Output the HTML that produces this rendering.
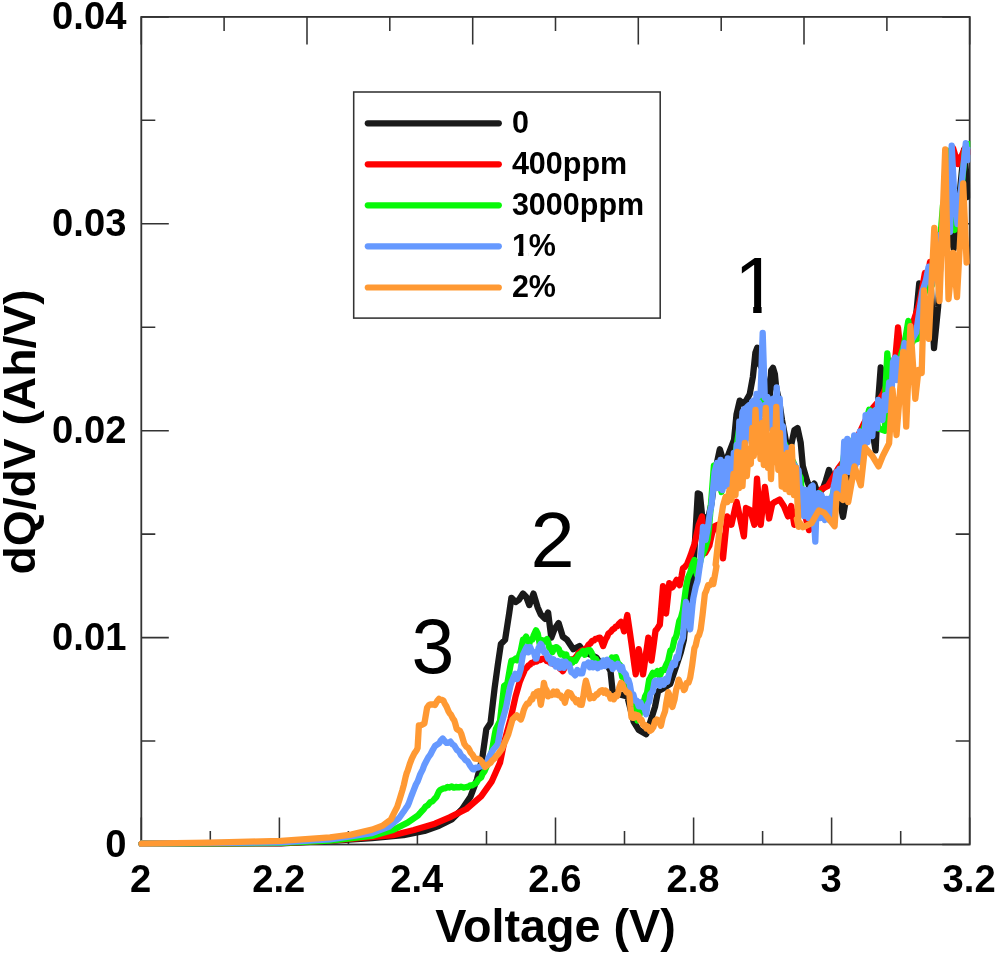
<!DOCTYPE html>
<html lang="en"><head><meta charset="utf-8"><title>dQ/dV vs Voltage</title>
<style>
html,body{margin:0;padding:0;background:#fff}
body{width:995px;height:953px;overflow:hidden}
svg text{font-family:"Liberation Sans",Arial,Helvetica,sans-serif;fill:#000}
.tk{font-size:39.7px;font-weight:bold}
.lg{font-size:32.2px;font-weight:bold}
.ti{font-size:46px;font-weight:bold}
.ty{font-size:45px;font-weight:bold}
.an{font-size:77px;font-weight:normal}
</style></head><body>
<svg width="995" height="953" viewBox="0 0 995 953" style="display:block;filter:blur(0.5px)">
<rect width="995" height="953" fill="#fff"/>
<rect x="141.3" y="16.9" width="828.4" height="827.6" fill="none" stroke="#333" stroke-width="1.8"/>
<path d="M141.3,844.5 v-27 M210.3,844.5 v-13.5 M279.4,844.5 v-27 M348.4,844.5 v-13.5 M417.4,844.5 v-13 M486.5,844.5 v-13.5 M555.5,844.5 v-27 M624.5,844.5 v-13.5 M693.6,844.5 v-27 M762.6,844.5 v-13.5 M831.6,844.5 v-27 M900.7,844.5 v-13.5 M969.7,844.5 v-27 M141.3,16.9 v27.5 M224.1,16.9 v14 M307.0,16.9 v27.5 M389.8,16.9 v14 M472.7,16.9 v27.5 M555.5,16.9 v14 M638.3,16.9 v27.5 M721.2,16.9 v14 M804.0,16.9 v27.5 M886.9,16.9 v14 M969.7,16.9 v27.5 M141.3,16.9 h27.5 M969.7,16.9 h-27.5 M141.3,120.3 h14 M969.7,120.3 h-14 M141.3,223.8 h27.5 M969.7,223.8 h-27.5 M141.3,327.2 h14 M969.7,327.2 h-14 M141.3,430.7 h27.5 M969.7,430.7 h-27.5 M141.3,534.1 h14 M969.7,534.1 h-14 M141.3,637.6 h27.5 M969.7,637.6 h-27.5 M141.3,741.0 h14 M969.7,741.0 h-14 M141.3,844.5 h27.5 M969.7,844.5 h-27.5" fill="none" stroke="#333" stroke-width="1.55"/>
<clipPath id="pa"><rect x="137.3" y="16.9" width="833.0" height="830.6"/></clipPath>
<g clip-path="url(#pa)">
<path d="M141.6,843.7 L281.0,843.4 L330.0,840.9 L372.0,838.0 L403.5,835.2 L424.4,831.0 L439.1,825.8 L451.7,819.5 L462.2,809.0 L470.6,796.4 L476.9,779.6 L482.2,758.6 L486.3,729.3 L490.5,723.0 L494.7,687.3 L497.8,664.9 L500.9,643.9 L505.1,639.7 L509.3,612.5 L511.4,597.8 L515.6,602.0 L518.8,599.9 L523.0,593.6 L526.1,596.7 L529.3,605.1 L533.5,593.6 L537.6,607.2 L540.8,614.6 L545.0,618.8 L548.1,612.5 L551.3,637.6 L554.4,629.3 L558.6,623.0 L562.8,636.6 L567.0,639.7 L573.3,649.2 L579.6,646.0 L583.8,652.3 L590.1,654.4 L596.4,657.6 L600.0,662.8 L606.3,662.8 L610.5,671.2 L612.6,691.2 L618.9,694.3 L627.3,696.4 L633.6,721.6 L638.8,730.0 L646.2,734.2 L650.4,721.6 L655.0,706.9 L658.1,691.2 L664.0,688.0 L670.3,683.8 L676.6,664.9 L680.8,652.3 L683.9,639.7 L687.1,606.2 L690.2,587.3 L694.4,568.4 L693.6,564.7 L697.8,493.3 L699.9,494.4 L702.0,514.3 L707.2,522.7 L711.4,503.8 L716.7,463.9 L719.8,449.3 L723.0,459.7 L727.2,457.6 L734.0,440.0 L736.5,414.5 L739.7,400.6 L744.0,404.4 L749.7,394.3 L752.9,376.7 L755.4,352.7 L757.3,347.7 L760.0,365.0 L763.0,370.0 L766.0,390.0 L769.5,402.0 L771.2,370.4 L773.0,367.9 L774.9,374.2 L776.2,388.0 L779.0,400.0 L782.0,420.0 L783.9,430.1 L787.0,446.9 L791.2,444.8 L794.4,430.1 L797.5,428.0 L800.7,442.7 L802.8,465.8 L807.0,480.5 L810.1,488.9 L814.3,483.6 L817.5,493.1 L822.7,489.0 L825.9,480.5 L829.0,470.0 L832.2,480.5 L835.6,485.3 L840.9,506.3 L843.0,516.8 L845.1,504.2 L849.3,455.9 L855.6,447.5 L863.9,439.1 L872.3,430.7 L875.6,450.4 L877.5,410.0 L880.7,367.5 L882.8,384.6 L886.0,390.0 L889.0,372.0 L894.0,362.0 L900.0,352.0 L905.0,345.0 L910.0,335.0 L913.0,325.0 L916.2,314.6 L919.2,283.5 L922.0,288.0 L927.0,275.0 L931.0,290.0 L934.0,348.2 L938.2,306.2 L941.0,250.0 L946.0,215.0 L950.0,235.0 L953.8,248.8 L956.4,222.6 L960.0,190.0 L964.0,150.0 L966.8,180.0 L967.3,197.0" fill="none" stroke="#1a1a1a" stroke-width="6.3" stroke-linejoin="round" stroke-linecap="round"/>
<path d="M141.6,843.7 L281.0,843.0 L330.0,840.5 L393.0,835.2 L413.9,830.0 L434.9,823.7 L449.6,817.4 L466.4,809.0 L481.1,796.4 L491.6,781.7 L500.0,762.8 L504.1,742.6 L510.4,719.5 L515.6,696.4 L519.8,681.7 L520.0,681.3 L521.6,677.4 L523.6,672.8 L525.1,669.1 L526.7,667.8 L528.5,665.5 L530.1,664.6 L531.4,662.8 L533.2,662.6 L534.6,661.3 L536.6,661.6 L537.6,660.7 L538.5,660.0 L540.4,660.1 L541.9,658.8 L543.9,658.6 L545.2,659.1 L546.7,660.9 L548.6,661.4 L550.2,662.8 L552.0,663.0 L553.7,664.2 L555.3,663.9 L556.5,664.9 L558.2,666.1 L560.2,668.9 L561.5,669.7 L562.8,671.2 L564.7,667.7 L566.7,665.3 L568.3,661.6 L569.1,660.7 L571.2,659.4 L573.2,659.4 L574.4,658.6 L576.4,656.5 L578.5,653.0 L579.6,652.3 L581.9,650.5 L583.7,649.9 L585.9,648.1 L587.1,647.4 L588.5,644.8 L590.4,643.4 L592.2,640.8 L594.1,640.5 L595.5,638.9 L597.5,638.7 L598.6,637.8 L600.0,637.6 L601.9,642.6 L603.1,646.0 L605.7,639.2 L607.4,636.3 L608.4,633.5 L610.6,632.0 L612.6,629.5 L614.7,628.2 L615.8,626.5 L617.3,626.2 L618.9,623.8 L621.0,621.9 L622.9,626.9 L624.1,631.4 L626.1,621.0 L627.3,615.0 L629.7,631.3 L631.5,643.9 L632.6,651.9 L634.4,665.3 L635.7,674.4 L637.6,659.6 L638.8,649.2 L640.7,660.9 L643.0,674.4 L644.3,665.9 L645.7,655.4 L647.1,646.1 L648.3,637.6 L650.1,651.1 L651.4,660.7 L653.3,647.6 L654.8,636.0 L655.6,630.3 L656.8,629.3 L658.8,626.1 L659.8,625.1 L660.8,613.4 L663.0,586.2 L664.3,598.2 L666.1,613.5 L667.4,601.5 L669.3,583.1 L670.7,585.5 L672.4,587.3 L674.1,584.5 L676.6,579.9 L677.9,582.4 L679.7,585.2 L681.6,576.1 L682.9,568.4 L684.7,567.1 L687.1,564.2 L689.4,558.4 L690.9,554.4 L692.7,549.0 L694.6,543.7 L696.4,535.4 L698.8,524.8 L702.0,516.4 L705.1,553.1 L709.3,545.8 L713.5,526.9 L717.7,524.8 L723.0,558.4 L727.2,516.4 L731.4,524.8 L736.6,501.7 L743.9,536.3 L746.0,508.0 L750.2,510.1 L754.4,524.8 L757.0,478.6 L760.7,524.8 L764.9,487.0 L769.1,518.5 L772.3,503.8 L775.4,501.7 L779.6,499.6 L783.8,505.9 L788.0,516.4 L791.2,505.9 L794.3,524.8 L798.5,514.3 L802.7,501.7 L805.9,518.5 L809.0,530.1 L811.1,522.7 L816.3,505.9 L821.6,489.1 L827.9,486.0 L838.4,468.1 L843.0,462.0 L848.0,448.0 L853.0,442.0 L858.0,436.0 L864.3,422.7 L869.0,414.0 L873.1,407.6 L878.0,402.0 L883.0,394.0 L888.0,382.0 L892.0,366.0 L895.5,356.0 L898.0,327.5 L900.5,352.0 L903.0,348.0 L907.0,340.0 L911.0,330.0 L914.6,317.8 L918.0,308.0 L921.0,295.0 L924.9,273.0 L927.0,282.0 L930.0,262.0 L934.0,275.0 L937.0,235.0 L941.0,245.0 L945.0,195.0 L949.0,210.0 L953.0,148.0 L956.0,158.0 L958.0,164.0 L960.0,158.0 L962.0,155.0 L965.0,148.0 L969.0,152.0" fill="none" stroke="#ff0000" stroke-width="6.3" stroke-linejoin="round" stroke-linecap="round"/>
<path d="M141.6,843.7 L281.0,842.9 L330.0,840.5 L372.0,835.9 L393.0,830.0 L407.6,822.6 L418.1,815.3 L420.0,813.2 L421.8,811.1 L423.7,809.3 L425.4,806.8 L426.5,805.9 L427.8,805.2 L430.4,802.1 L432.5,801.3 L434.9,798.5 L436.5,796.8 L439.0,791.3 L440.2,790.1 L443.2,788.4 L445.3,788.4 L447.5,787.0 L449.2,787.5 L451.8,786.4 L453.9,787.7 L455.9,787.0 L459.2,787.3 L461.0,786.6 L463.6,787.6 L466.4,787.0 L468.2,787.0 L470.1,785.3 L471.9,785.4 L474.8,783.8 L476.5,782.7 L478.4,779.5 L481.1,777.5 L482.5,774.0 L484.5,771.4 L486.3,767.0 L488.4,762.0 L491.6,752.3 L492.7,746.4 L494.8,734.2 L495.8,729.3 L497.4,726.2 L500.0,720.9 L504.1,685.9 L507.2,683.8 L508.0,679.5 L510.2,666.9 L511.4,660.7 L512.5,661.2 L515.6,658.6 L516.9,660.2 L518.8,656.5 L520.7,651.1 L523.0,639.7 L524.5,639.4 L526.1,636.6 L529.3,643.9 L530.4,639.6 L532.4,639.7 L533.8,635.0 L536.0,630.3 L537.8,633.8 L539.7,643.9 L542.5,640.3 L543.9,641.8 L547.0,639.2 L548.1,641.8 L549.4,648.0 L551.2,647.6 L552.3,652.3 L554.6,647.7 L556.5,647.1 L558.8,649.2 L560.7,654.4 L562.7,653.6 L564.9,656.5 L566.3,654.6 L567.9,662.3 L569.1,660.7 L570.2,659.5 L572.4,662.7 L574.5,659.6 L575.4,660.7 L578.5,654.9 L580.7,653.4 L583.0,651.0 L584.9,654.8 L585.9,652.3 L587.1,650.3 L590.1,650.2 L591.6,652.8 L594.3,660.7 L595.9,658.8 L598.2,664.0 L600.0,662.8 L602.4,664.4 L604.1,661.0 L605.8,664.7 L608.4,661.8 L609.9,664.1 L611.9,657.4 L613.7,660.7 L614.7,657.6 L616.0,657.2 L617.9,663.3 L619.9,664.9 L622.2,677.0 L623.1,677.5 L623.9,676.1 L626.3,685.1 L628.3,685.9 L630.5,693.8 L632.7,697.3 L634.6,704.8 L637.4,720.5 L638.9,717.8 L641.1,706.6 L643.0,705.1 L645.1,696.4 L647.1,692.6 L649.2,679.6 L650.4,677.5 L652.9,672.8 L654.6,674.4 L657.4,671.1 L659.5,676.1 L660.9,673.3 L661.7,670.0 L663.9,670.2 L666.1,664.9 L668.0,661.3 L670.4,650.3 L671.4,650.2 L672.5,648.1 L674.5,639.1 L675.6,637.6 L676.6,634.9 L679.3,620.9 L681.1,617.4 L682.9,610.4 L686.0,587.3 L687.8,578.2 L690.2,572.6 L692.3,564.9 L694.4,560.0 L697.0,575.0 L698.6,568.6 L701.0,558.0 L705.0,549.0 L707.5,540.0 L709.0,528.0 L710.5,510.0 L712.0,491.0 L713.9,465.6 L716.0,480.0 L718.0,470.0 L721.5,492.0 L724.0,470.0 L727.0,480.0 L729.7,474.4 L733.0,462.0 L736.0,450.0 L739.0,430.0 L742.0,420.0 L744.2,432.8 L747.0,415.0 L750.0,410.0 L753.0,410.0 L757.0,402.0 L760.0,395.0 L763.0,410.0 L766.0,400.0 L768.0,415.0 L770.6,425.3 L773.0,405.0 L778.0,410.0 L783.0,440.0 L790.0,455.0 L796.0,468.0 L800.8,478.2 L802.1,499.6 L804.8,506.0 L808.0,500.0 L811.1,497.5 L815.0,505.0 L819.5,493.3 L823.0,500.0 L827.9,503.8 L832.1,497.5 L836.7,476.9 L841.9,470.6 L845.1,447.5 L849.3,447.5 L853.5,439.1 L859.7,434.9 L863.9,428.6 L869.2,409.7 L874.4,413.9 L878.6,428.6 L884.9,430.7 L885.5,390.0 L887.3,353.5 L889.5,375.0 L892.0,372.0 L895.0,360.0 L899.0,362.0 L903.0,348.0 L905.7,336.7 L908.3,320.9 L910.5,345.0 L914.0,340.0 L917.7,338.8 L920.0,312.0 L924.0,295.0 L927.0,285.0 L930.0,275.0 L932.0,285.0 L935.0,245.0 L939.0,255.0 L943.0,205.0 L947.0,220.0 L951.0,150.0 L953.2,198.0 L954.5,230.0 L958.0,200.0 L961.0,195.0 L965.0,150.0 L969.8,144.0" fill="none" stroke="#08f808" stroke-width="6.3" stroke-linejoin="round" stroke-linecap="round"/>
<path d="M141.6,843.7 L281.0,842.4 L330.0,839.4 L372.0,833.1 L388.8,826.8 L399.3,817.8 L400.0,816.8 L402.3,813.4 L404.4,810.6 L406.7,807.0 L407.6,805.9 L408.9,803.0 L411.4,796.0 L413.9,789.7 L415.9,784.5 L417.7,781.3 L420.2,774.4 L422.6,769.6 L424.3,765.0 L426.5,760.7 L428.1,757.7 L430.3,754.7 L432.8,749.8 L435.0,746.0 L437.8,744.2 L439.5,742.9 L440.5,741.0 L442.8,738.5 L444.5,740.8 L446.6,742.9 L448.3,742.9 L450.4,741.6 L452.5,744.4 L454.2,745.4 L456.9,749.9 L459.1,751.5 L461.2,755.4 L462.2,756.5 L463.5,757.3 L465.5,760.1 L467.6,761.2 L468.5,762.8 L470.0,765.4 L472.7,769.1 L473.8,769.4 L475.7,767.6 L477.9,767.7 L479.0,767.0 L480.3,766.3 L482.6,766.1 L485.3,764.9 L486.7,762.8 L489.2,756.8 L491.6,752.3 L493.8,749.0 L496.2,746.3 L497.9,743.9 L498.8,738.5 L500.9,725.8 L506.2,706.9 L507.9,697.7 L510.4,685.9 L511.5,682.3 L513.5,677.5 L515.3,673.9 L517.2,679.1 L518.8,675.4 L520.7,669.1 L521.9,660.7 L522.9,654.8 L525.1,650.2 L526.6,647.1 L528.5,652.3 L530.1,646.9 L531.4,650.2 L534.1,652.8 L535.6,658.6 L536.4,658.6 L538.5,648.0 L540.8,643.9 L542.3,646.4 L543.9,652.3 L545.9,652.4 L548.1,658.6 L549.4,657.3 L551.4,663.5 L553.6,659.3 L554.4,662.8 L555.8,666.6 L558.1,661.1 L559.7,668.0 L560.7,664.9 L562.0,661.5 L563.9,667.9 L565.6,661.6 L567.0,664.9 L569.1,664.4 L571.4,672.3 L573.3,673.3 L575.2,675.3 L577.3,669.9 L579.6,673.3 L582.2,673.4 L584.4,664.4 L585.9,664.9 L588.3,662.5 L589.8,667.2 L591.7,662.9 L593.3,667.3 L594.3,666.0 L595.5,663.5 L597.7,668.2 L600.0,663.9 L601.4,666.4 L603.4,660.4 L605.4,666.1 L607.3,659.7 L608.4,661.8 L609.4,665.4 L611.1,662.9 L612.6,669.1 L614.6,664.9 L616.5,666.5 L617.8,663.9 L620.1,669.8 L622.0,666.7 L623.1,671.2 L625.8,674.3 L627.4,681.1 L628.3,679.6 L629.7,683.9 L631.5,694.3 L633.3,694.3 L635.0,700.8 L636.7,700.6 L638.8,706.3 L640.4,702.3 L642.0,706.9 L644.1,707.4 L646.2,714.2 L647.7,704.1 L649.3,701.6 L650.4,694.3 L652.9,691.1 L654.6,681.3 L655.6,680.7 L656.6,684.7 L658.4,680.5 L660.0,685.9 L660.9,683.8 L661.7,680.3 L663.9,684.6 L665.6,679.0 L667.2,681.7 L669.4,672.3 L671.4,667.0 L672.9,662.9 L674.7,664.9 L676.5,656.6 L677.6,658.6 L680.4,644.2 L682.9,637.6 L684.9,611.3 L686.0,602.0 L688.8,616.7 L690.2,629.3 L692.4,605.7 L693.4,597.8 L695.8,586.6 L697.6,581.0 L699.4,568.4 L700.7,560.0 L701.6,548.1 L703.0,526.9 L705.5,540.0 L708.3,524.8 L710.0,512.0 L711.4,505.9 L713.0,490.0 L714.6,472.0 L717.0,463.0 L718.5,488.0 L720.5,460.0 L722.5,490.0 L724.5,462.0 L726.0,486.0 L727.8,458.5 L729.5,484.0 L731.4,465.0 L732.5,478.0 L733.8,453.0 L735.5,472.0 L736.7,445.0 L738.0,465.0 L739.3,421.5 L741.0,448.0 L742.5,412.0 L744.2,409.0 L745.5,442.0 L747.0,407.0 L749.2,405.0 L750.5,438.0 L752.0,402.0 L753.5,400.7 L755.0,432.0 L756.5,394.0 L758.7,396.0 L760.6,394.0 L762.7,332.8 L764.8,398.0 L767.5,397.0 L769.2,400.7 L770.5,428.0 L772.0,400.0 L773.4,398.6 L775.0,422.0 L776.7,387.4 L778.5,422.0 L779.7,398.6 L781.0,432.0 L782.8,425.9 L784.5,452.0 L786.0,446.9 L789.0,458.0 L792.0,462.0 L795.0,466.0 L798.5,470.2 L800.0,492.0 L801.3,488.2 L802.7,493.3 L804.0,516.0 L805.5,490.0 L807.3,493.7 L808.5,518.0 L810.0,489.0 L811.2,486.8 L812.7,485.6 L814.0,520.0 L815.3,541.6 L816.8,500.0 L818.4,493.3 L820.0,518.0 L821.5,495.0 L823.7,503.8 L825.0,520.0 L826.5,499.0 L827.9,500.8 L829.5,520.0 L831.0,498.0 L832.8,499.5 L833.8,486.0 L834.6,483.2 L836.6,471.8 L838.0,490.0 L839.5,469.0 L840.4,470.5 L842.0,492.0 L843.0,468.5 L844.2,441.6 L845.5,470.0 L847.3,439.0 L848.8,472.0 L850.5,441.6 L852.3,468.0 L854.2,435.3 L855.5,465.0 L856.8,437.8 L858.3,462.0 L859.9,431.5 L861.5,460.0 L863.0,432.7 L864.3,452.0 L865.6,415.1 L867.5,442.0 L869.0,414.0 L870.6,411.3 L872.3,436.0 L874.0,412.0 L875.6,410.0 L877.0,428.0 L878.2,400.0 L880.7,403.5 L882.5,420.0 L884.9,395.1 L887.0,410.0 L889.1,382.5 L891.5,395.0 L893.0,362.0 L895.2,357.6 L897.0,380.0 L899.6,359.4 L901.5,365.0 L904.6,343.0 L907.0,350.0 L910.0,343.0 L913.0,338.0 L916.2,332.5 L919.3,311.5 L922.5,291.0 L926.0,280.0 L928.6,266.7 L931.5,285.0 L933.5,262.0 L936.0,240.0 L938.0,258.0 L940.0,235.0 L942.0,250.0 L944.0,200.0 L946.0,225.0 L948.0,205.0 L950.0,232.0 L951.7,145.7 L954.0,190.0 L957.4,224.0 L961.0,190.0 L965.8,143.1 L968.0,160.0 L969.5,150.0 M756.5,414 L760,420 L764,421 L767.5,419 L771,424 L775,420 L779,424 M758.5,402 L762,408 L766,404 L762,414 L758.5,408" fill="none" stroke="#6699ff" stroke-width="6.3" stroke-linejoin="round" stroke-linecap="round"/>
<path d="M141.6,843.7 L210.0,842.6 L281.0,840.8 L330.0,837.3 L351.0,834.6 L372.0,829.6 L382.5,825.8 L390.9,819.5 L395.0,811.2 L397.2,806.9 L399.9,798.4 L402.4,790.1 L403.8,785.0 L405.7,776.6 L406.6,773.3 L407.6,770.9 L409.8,763.9 L411.8,758.6 L414.4,753.4 L416.6,750.3 L417.6,748.0 L418.9,725.3 L421.5,725.1 L424.4,723.5 L427.1,707.6 L428.9,705.3 L430.2,704.5 L433.1,704.5 L435.0,705.1 L437.5,700.5 L439.0,698.8 L439.8,699.6 L442.2,699.9 L443.5,700.7 L444.6,703.4 L446.5,706.5 L448.7,711.7 L449.7,713.3 L450.9,714.6 L453.0,718.7 L454.2,720.2 L455.2,723.4 L456.7,729.0 L460.0,731.0 L461.2,733.5 L464.3,743.9 L466.3,746.6 L468.2,747.9 L469.6,750.2 L470.6,752.5 L472.5,754.6 L474.8,758.6 L477.5,758.8 L480.1,759.7 L482.4,762.7 L485.3,767.0 L487.5,765.0 L490.5,762.8 L492.0,760.7 L494.4,758.7 L496.5,755.9 L497.9,754.4 L498.8,753.3 L500.8,750.4 L502.0,748.9 L503.1,746.3 L508.3,734.2 L512.5,719.5 L516.7,715.3 L518.9,717.8 L520.9,719.5 L522.2,715.9 L523.8,710.0 L525.1,706.9 L527.2,703.3 L528.7,703.6 L531.4,698.5 L532.3,699.5 L533.7,694.3 L535.3,695.5 L536.7,692.0 L538.7,691.2 L540.8,704.8 L542.0,697.8 L543.9,682.8 L544.9,687.5 L546.6,690.1 L548.1,696.4 L549.9,693.5 L551.7,695.0 L553.5,691.5 L554.4,692.2 L555.4,694.4 L557.0,691.5 L558.4,695.4 L560.7,695.4 L562.0,698.3 L563.8,699.0 L564.9,702.7 L567.1,693.8 L568.1,692.2 L568.9,694.6 L570.6,693.4 L573.3,698.5 L574.4,698.5 L576.2,702.2 L578.2,700.4 L579.8,704.6 L581.7,704.8 L583.3,696.7 L584.7,686.8 L585.9,680.7 L588.1,688.9 L590.1,698.5 L591.8,696.0 L593.7,697.9 L596.4,694.3 L597.3,694.7 L600.0,691.2 L602.2,690.2 L603.9,692.6 L605.5,690.5 L606.3,691.2 L607.1,693.8 L608.9,693.7 L610.5,698.5 L612.5,696.3 L613.9,699.3 L615.8,694.9 L616.8,696.4 L617.7,694.8 L619.3,687.4 L621.0,682.8 L622.5,684.4 L624.0,689.1 L625.2,690.1 L626.8,692.6 L628.4,692.6 L629.4,694.3 L630.4,706.8 L631.5,717.4 L633.4,717.9 L634.9,714.5 L636.9,716.9 L637.8,715.3 L638.6,715.9 L640.0,720.2 L641.6,719.9 L643.0,724.8 L644.1,725.8 L645.1,725.0 L646.5,728.6 L647.9,726.6 L649.9,731.0 L651.4,730.0 L653.4,727.0 L655.2,720.9 L656.7,719.5 L658.6,720.7 L660.9,725.8 L662.6,718.0 L665.1,711.1 L666.2,703.3 L668.2,692.2 L669.1,694.3 L670.9,703.6 L672.4,706.9 L674.6,699.3 L676.2,689.4 L677.7,684.8 L678.7,679.6 L681.2,686.4 L682.9,686.5 L683.9,690.1 L684.8,689.2 L686.6,682.9 L688.5,682.7 L690.2,677.5 L692.1,665.8 L694.4,648.1 L695.6,645.8 L697.6,637.0 L699.1,635.0 L700.7,629.3 L702.5,615.4 L704.9,593.6 L706.2,591.0 L708.1,585.2 L709.3,585.7 L711.1,584.2 L712.5,580.0 L713.3,584.1 L716.5,566.3 L715.6,564.7 L719.8,526.9 L723.0,505.9 L725.5,497.0 L727.5,502.0 L729.5,490.0 L731.5,500.0 L733.5,474.0 L735.5,495.0 L737.2,452.0 L739.0,488.0 L740.8,453.0 L742.5,486.0 L744.8,443.0 L746.8,476.0 L749.0,449.0 L750.8,464.0 L752.3,428.0 L753.8,456.0 L755.5,410.0 L757.5,452.0 L759.2,434.0 L760.5,459.0 L762.3,423.0 L763.8,465.0 L765.8,408.0 L768.0,468.0 L769.5,441.0 L771.0,479.0 L773.2,430.0 L774.5,462.0 L776.3,407.0 L778.3,470.0 L780.0,433.0 L781.7,486.5 L783.5,455.0 L785.5,489.0 L787.5,453.0 L789.5,492.0 L791.8,447.0 L794.0,495.0 L796.0,468.0 L797.5,503.0 L798.5,526.9 L796.8,518.9 L803.1,527.3 L811.5,523.1 L818.8,510.5 L824.1,512.6 L834.6,526.2 L836.7,493.7 L843.0,500.0 L845.1,476.9 L848.2,502.1 L854.5,466.4 L860.8,485.3 L865.0,447.5 L872.3,455.9 L878.6,466.4 L882.8,455.9 L889.1,443.3 L892.5,389.5 L896.5,435.0 L903.2,352.0 L906.2,426.5 L910.4,326.2 L915.3,398.8 L918.5,369.9 L921.7,373.0 L924.0,290.5 L928.8,338.8 L934.3,227.8 L939.5,301.0 L945.2,149.4 L948.5,299.0 L953.2,253.0 L957.0,297.0 L963.2,183.5 L966.6,262.5" fill="none" stroke="#ff9933" stroke-width="6.3" stroke-linejoin="round" stroke-linecap="round"/>
</g>
<rect x="353.7" y="92" width="306.5" height="226.1" fill="#fff" stroke="#333" stroke-width="1.55"/>
<path d="M367.8,123.3 H498.8" stroke="#1a1a1a" stroke-width="6.2" stroke-linecap="round"/>
<text transform="translate(511.9,133.1) scale(0.948,1)" class="lg">0</text>
<path d="M367.8,164.3 H498.8" stroke="#ff0000" stroke-width="6.2" stroke-linecap="round"/>
<text transform="translate(511.9,174.1) scale(0.948,1)" class="lg">400ppm</text>
<path d="M367.8,205.3 H498.8" stroke="#08f808" stroke-width="6.2" stroke-linecap="round"/>
<text transform="translate(511.9,215.1) scale(0.948,1)" class="lg">3000ppm</text>
<path d="M367.8,246.3 H498.8" stroke="#6699ff" stroke-width="6.2" stroke-linecap="round"/>
<clipPath id="c2"><rect x="505" y="225" width="120" height="27"/><rect x="518.2" y="250" width="5.2" height="9"/><rect x="528.5" y="225" width="90" height="40"/></clipPath><g clip-path="url(#c2)"><text transform="translate(511.9,256.1) scale(0.948,1)" class="lg">1%</text></g>
<path d="M367.8,287.5 H498.8" stroke="#ff9933" stroke-width="6.2" stroke-linecap="round"/>
<text transform="translate(511.9,297.3) scale(0.948,1)" class="lg">2%</text>
<text transform="translate(140.7,891.8) scale(0.962,1)" class="tk" text-anchor="middle">2</text>
<text transform="translate(278.8,891.8) scale(0.962,1)" class="tk" text-anchor="middle">2.2</text>
<text transform="translate(416.8,891.8) scale(0.962,1)" class="tk" text-anchor="middle">2.4</text>
<text transform="translate(554.9,891.8) scale(0.962,1)" class="tk" text-anchor="middle">2.6</text>
<text transform="translate(693.0,891.8) scale(0.962,1)" class="tk" text-anchor="middle">2.8</text>
<text transform="translate(831.0,891.8) scale(0.962,1)" class="tk" text-anchor="middle">3</text>
<text transform="translate(969.1,891.8) scale(0.962,1)" class="tk" text-anchor="middle">3.2</text>
<text transform="translate(126.4,29.3) scale(0.962,1)" class="tk" text-anchor="end">0.04</text>
<text transform="translate(126.4,236.2) scale(0.962,1)" class="tk" text-anchor="end">0.03</text>
<text transform="translate(126.4,443.1) scale(0.962,1)" class="tk" text-anchor="end">0.02</text>
<text transform="translate(126.4,650.0) scale(0.962,1)" class="tk" text-anchor="end">0.01</text>
<text transform="translate(126.4,856.9) scale(0.962,1)" class="tk" text-anchor="end">0</text>
<text transform="translate(555.5,942.4) scale(1.016,1)" class="ti" text-anchor="middle">Voltage (V)</text>
<text transform="translate(35.2,432) rotate(-90) scale(1.028,1)" class="ty" text-anchor="middle">dQ/dV (Ah/V)</text>
<defs><clipPath id="c1"><rect x="700" y="240" width="100" height="66"/><rect x="753.2" y="300" width="8.4" height="20"/></clipPath></defs>
<text x="734.2" y="312.6" class="an" style="font-size:79px" clip-path="url(#c1)">1</text>
<text transform="translate(552.6,567.4) scale(1.03,1)" class="an" text-anchor="middle">2</text>
<text transform="translate(433.0,672.6) scale(1.0,1)" class="an" text-anchor="middle">3</text>
</svg>
</body></html>
